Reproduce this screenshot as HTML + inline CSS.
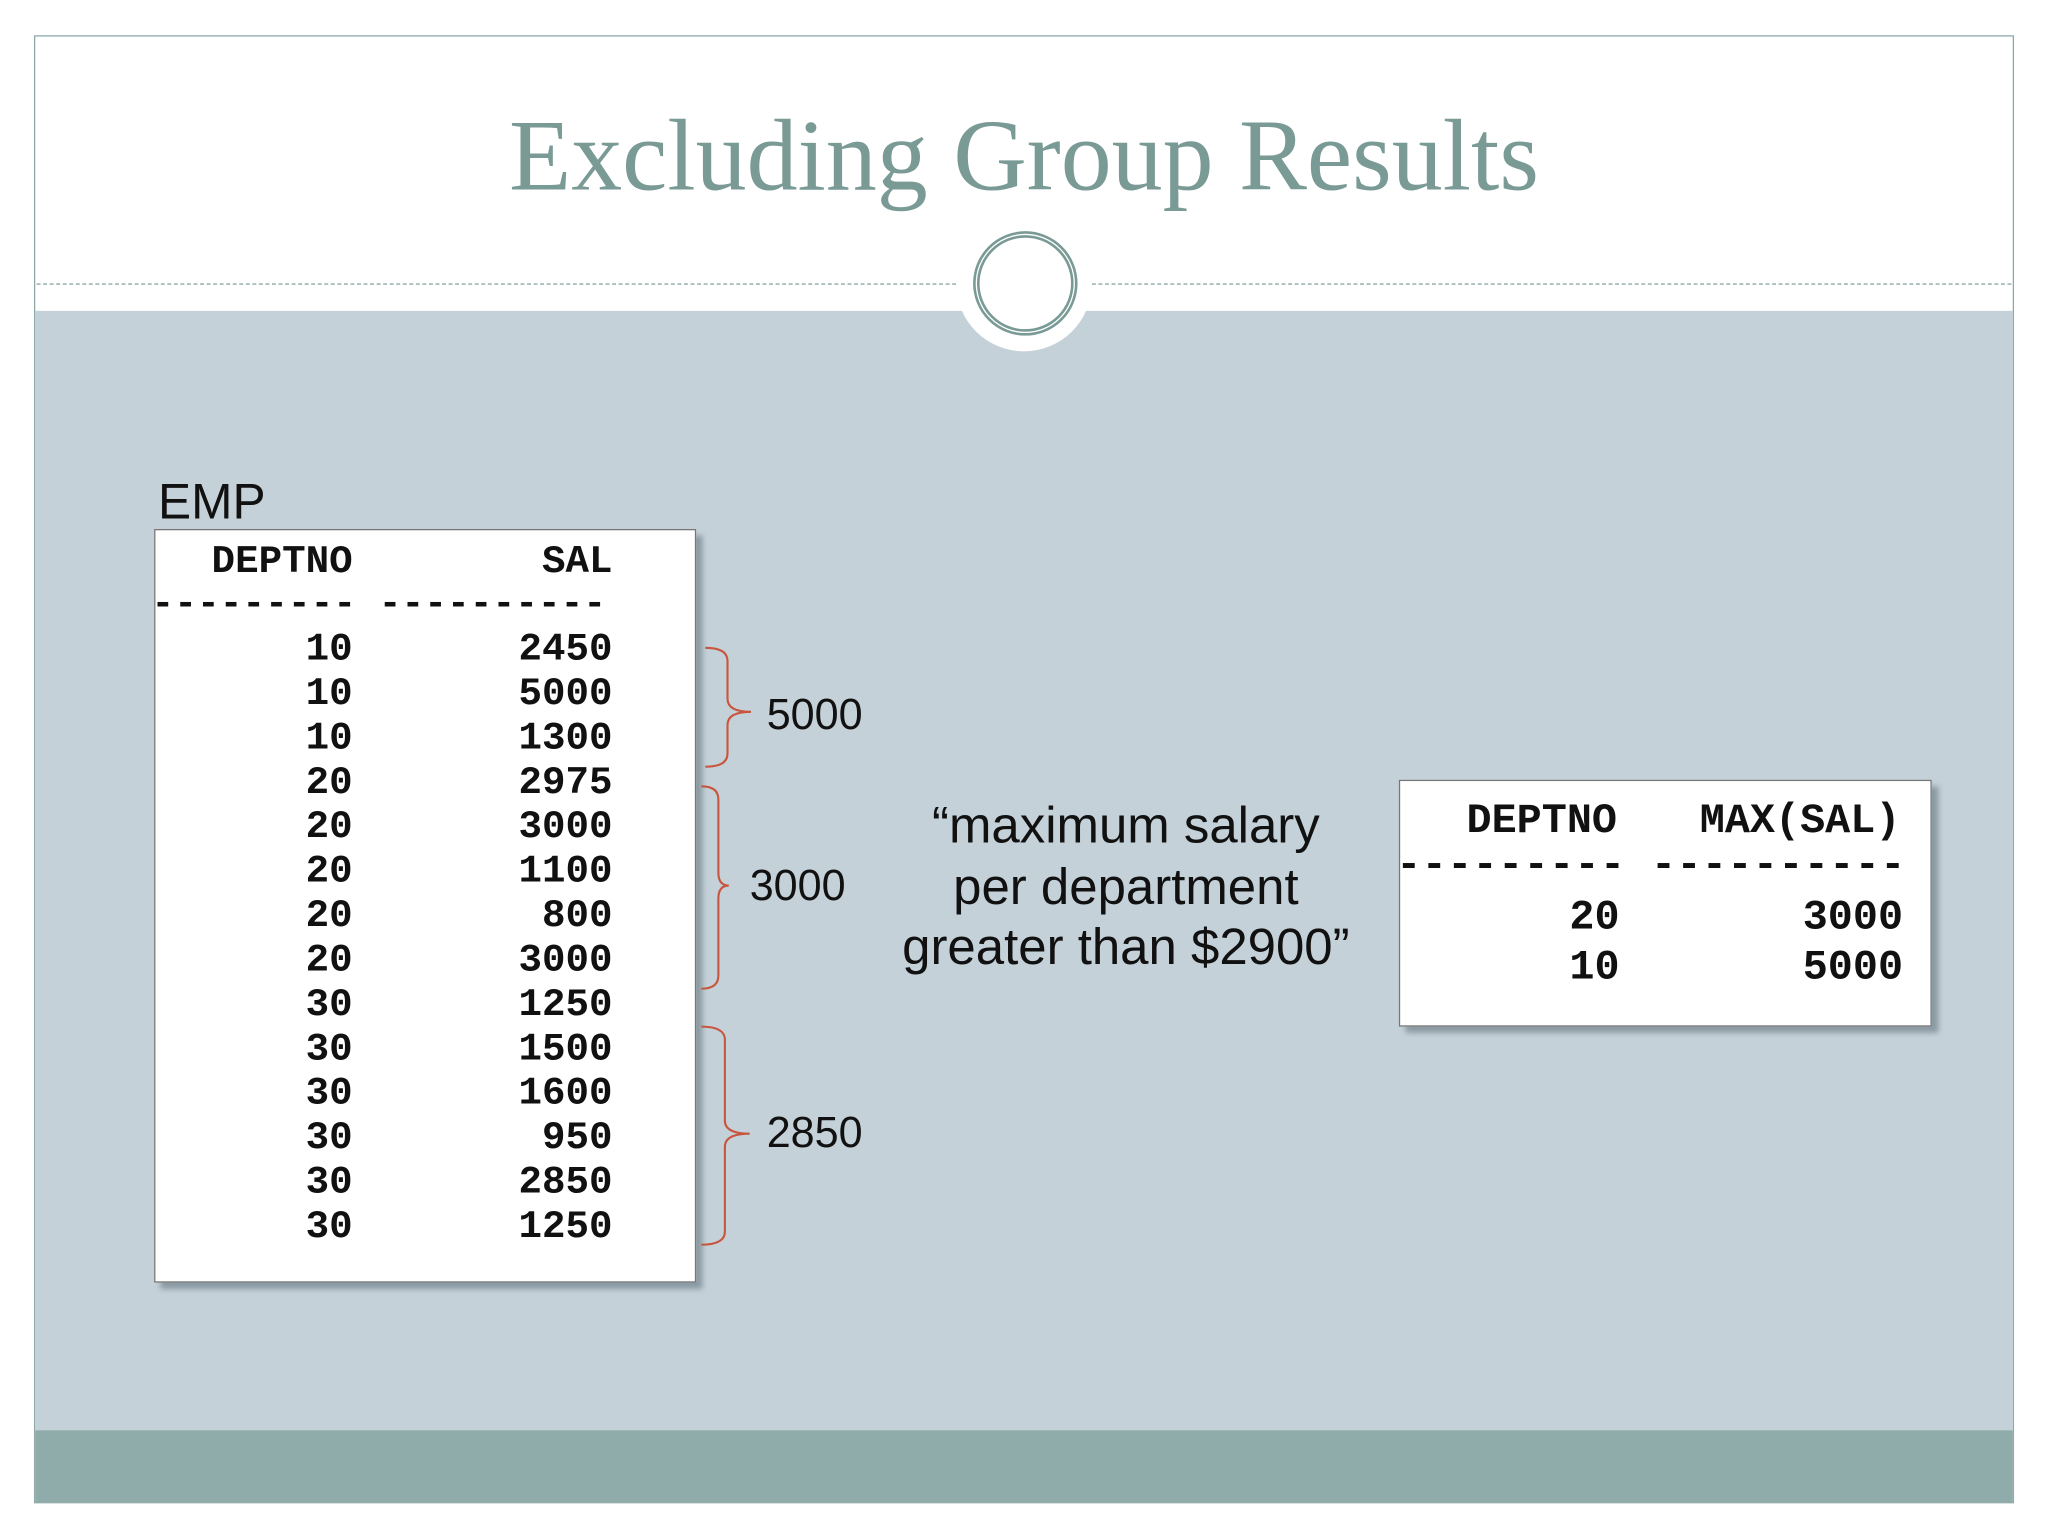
<!DOCTYPE html>
<html><head><meta charset="utf-8"><style>
html,body{margin:0;padding:0;width:2048px;height:1536px;overflow:hidden;background:#fff}
#s{position:absolute;left:0;top:0;width:1568px;height:1176px;transform:scale(1.306122);transform-origin:0 0;background:#fff}
.a{position:absolute}
.m{font-family:"Liberation Mono",monospace;font-weight:bold;font-size:30px;color:#111;white-space:pre;line-height:34px}
.r{font-size:32px}
.sans{font-family:"Liberation Sans",sans-serif;color:#111}
</style></head><body>
<div id="s">
  <div class="a" style="left:26px;top:27px;width:1514px;height:1122px;border:1px solid #8fa9a8"></div>
  <div class="a" style="left:27px;top:238px;width:1514px;height:857px;background:#c5d1d8"></div>
  <div class="a" style="left:27px;top:1095px;width:1514px;height:55px;background:#8fabaa"></div>
  <div class="a" style="left:28px;top:217px;width:704px;border-top:1px dashed #8fa9a8"></div>
  <div class="a" style="left:836px;top:217px;width:704px;border-top:1px dashed #8fa9a8"></div>
  <div class="a" style="left:732px;top:165px;width:104px;height:104px;border-radius:50%;background:#fff"></div>
  <div class="a" style="left:745px;top:177px;width:70px;height:70px;border-radius:50%;border:5px double #7a9a95;box-sizing:content-box"></div>
  <div class="a" style="left:0;top:74px;width:1568px;text-align:center;font-family:'Liberation Serif',serif;font-size:78px;color:#7a9a95">Excluding Group Results</div>

  <div class="a sans" style="left:121px;top:364px;font-size:38px">EMP</div>
  <div class="a" style="left:118px;top:405px;width:413px;height:575px;background:#fff;border:1px solid #777;box-shadow:5px 5px 4px #8a9aa3"></div>
  <div class="a m" style="left:118px;top:414px;width:152px;text-align:right">DEPTNO</div>
  <div class="a m" style="left:290px;top:414px;width:179px;text-align:right">SAL</div>
  <div class="a m" style="left:116px;top:446px;font-size:29px">--------- ----------</div>
  <div id="rows"></div>

  <svg class="a" style="left:0;top:0" width="1568" height="1176">
    <g fill="none" stroke="#c8553d" stroke-width="1.6">
      <path d="M540 496 Q557 496 557 506 L557 535 Q557 545 575 545 Q557 545 557 555 L557 577 Q557 587 540 587"/>
      <path d="M537 602 Q550 602 550 612 L550 668 Q550 678 558 678 Q550 678 550 688 L550 747 Q550 757 537 757"/>
      <path d="M537 786 Q555 786 555 796 L555 858 Q555 868 574 868 Q555 868 555 878 L555 943 Q555 953 537 953"/>
    </g>
  </svg>
  <div class="a sans" style="left:587px;top:528px;font-size:33px">5000</div>
  <div class="a sans" style="left:574px;top:659px;font-size:33px">3000</div>
  <div class="a sans" style="left:587px;top:848px;font-size:33px">2850</div>

  <div class="a sans" style="left:642px;top:610px;width:440px;text-align:center;font-size:39px;line-height:46.5px">“maximum salary<br>per department<br>greater than $2900”</div>

  <div class="a" style="left:1071px;top:597px;width:406px;height:187px;background:#fff;border:1px solid #777;box-shadow:5px 5px 4px #8a9aa3"></div>
  <div class="a m r" style="left:1071px;top:612px;width:167px;text-align:right">DEPTNO</div>
  <div class="a m r" style="left:1250px;top:612px;width:205px;text-align:right">MAX(SAL)</div>
  <div class="a m r" style="left:1069px;top:646px;letter-spacing:0.3px">--------- ----------</div>
  <div class="a m r" style="left:1071px;top:686px;width:386px"><span style="position:absolute;right:217px">20</span><span style="position:absolute;right:0">3000</span></div>
  <div class="a m r" style="left:1071px;top:724px;width:386px"><span style="position:absolute;right:217px">10</span><span style="position:absolute;right:0">5000</span></div>
</div>
<script>
const deptnos=[10,10,10,20,20,20,20,20,30,30,30,30,30,30];
const salaries=[2450,5000,1300,2975,3000,1100,800,3000,1250,1500,1600,950,2850,1250];
const host=document.getElementById('rows');
deptnos.forEach((d,i)=>{
  const r=document.createElement('div');
  
  
  r.className='a m';
  r.style.left='118px';r.style.top=(481+i*34)+'px';r.style.width='351px';
  r.innerHTML='<span style="position:absolute;right:199px">'+d+'</span><span style="position:absolute;right:0">'+salaries[i]+'</span>';
  host.appendChild(r);
});
</script>
</body></html>
